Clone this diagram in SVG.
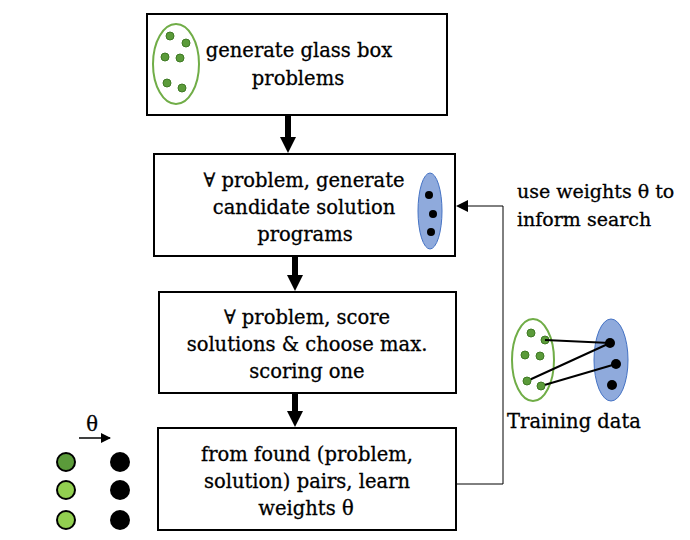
<svg xmlns="http://www.w3.org/2000/svg" width="690" height="540" viewBox="0 0 690 540">
<style>
.box{fill:#fff;stroke:#000;stroke-width:2}
.t{font-family:"DejaVu Serif","Liberation Serif",serif;font-size:19.5px;fill:#000;stroke:#000;stroke-width:0.3;text-anchor:middle}
.tl{font-family:"DejaVu Serif","Liberation Serif",serif;font-size:19px;fill:#000;stroke:#000;stroke-width:0.3}
.ge{fill:#fff;stroke:#70ad47;stroke-width:2}
.be{fill:#8faadc;stroke:#4472c4;stroke-width:1}
.gd{fill:#5b9b3a;stroke:#3f7a24;stroke-width:1}
.bd{fill:#000}
.thick{stroke:#000;stroke-width:6}
</style>
<defs>
<marker id="as" markerWidth="10" markerHeight="10" refX="9" refY="5" orient="auto" markerUnits="userSpaceOnUse"><path d="M0,0L10,5L0,10z" fill="#000"/></marker>
</defs>
<g id="connectors">
<line class="thick" x1="288" y1="115" x2="288" y2="138"/>
<path d="M280,137L296,137L288,153z" fill="#000"/>
<line class="thick" x1="295" y1="256" x2="295" y2="276"/>
<path d="M287,275L303,275L295,291z" fill="#000"/>
<line class="thick" x1="295" y1="393" x2="295" y2="412"/>
<path d="M287,411L303,411L295,427z" fill="#000"/>
<polyline points="456,484 503,484 503,206 467,206" fill="none" stroke="#000" stroke-width="1"/>
<path d="M456,206L468,200L468,212z" fill="#000"/>
</g>
<g id="n1">
<rect class="box" x="147" y="14" width="300" height="101"/>
<ellipse class="ge" cx="176" cy="64" rx="23" ry="40"/>
<circle class="gd" cx="170" cy="36" r="4"/><circle class="gd" cx="186" cy="43" r="4"/>
<circle class="gd" cx="165" cy="57" r="4"/><circle class="gd" cx="180" cy="58" r="4"/>
<circle class="gd" cx="167" cy="83" r="4"/><circle class="gd" cx="182" cy="88" r="4"/>
<text class="t" x="299" y="57">generate glass box</text>
<text class="t" x="298" y="85">problems</text>
</g>
<g id="n2">
<rect class="box" x="154" y="154" width="301" height="102"/>
<ellipse class="be" cx="430" cy="211" rx="12" ry="38"/>
<circle class="bd" cx="429" cy="195" r="4"/><circle class="bd" cx="433" cy="214" r="4"/><circle class="bd" cx="431" cy="232" r="4"/>
<text class="t" x="304" y="187">∀ problem, generate</text>
<text class="t" x="304" y="214">candidate solution</text>
<text class="t" x="305" y="241">programs</text>
</g>
<g id="n3">
<rect class="box" x="159" y="292" width="297" height="101"/>
<text class="t" x="307" y="324">∀ problem, score</text>
<text class="t" x="307" y="351">solutions &amp; choose max.</text>
<text class="t" x="307" y="378">scoring one</text>
</g>
<g id="n4">
<rect class="box" x="158" y="428" width="298" height="102"/>
<text class="t" x="307" y="461">from found (problem,</text>
<text class="t" x="307" y="488">solution) pairs, learn</text>
<text class="t" x="306" y="515">weights θ</text>
</g>
<g id="label-weights">
<text class="tl" x="517" y="198">use weights θ to</text>
<text class="tl" x="517" y="226">inform search</text>
</g>
<g id="training">
<ellipse class="ge" cx="533" cy="360" rx="21" ry="41"/>
<ellipse class="be" cx="611" cy="360" rx="17" ry="41"/>
<circle class="gd" cx="531" cy="333" r="4"/><circle class="gd" cx="545" cy="340" r="4"/>
<circle class="gd" cx="525" cy="355" r="4"/><circle class="gd" cx="540" cy="356" r="4"/>
<line x1="545" y1="340" x2="610" y2="343" stroke="#000" stroke-width="2"/>
<line x1="527" y1="381" x2="610" y2="343" stroke="#000" stroke-width="2"/>
<line x1="541" y1="386" x2="616" y2="364" stroke="#000" stroke-width="2"/>
<circle class="gd" cx="527" cy="381" r="4"/><circle class="gd" cx="541" cy="386" r="4"/>
<circle class="bd" cx="610" cy="343" r="5"/><circle class="bd" cx="616" cy="364" r="5"/><circle class="bd" cx="612" cy="385" r="5"/>
<text class="t" x="574" y="428">Training data</text>
</g>
<g id="legend">
<text class="t" x="92" y="431" font-size="17" stroke-width="0">θ</text>
<line x1="79" y1="438" x2="110" y2="438" stroke="#000" stroke-width="1.5" marker-end="url(#as)"/>
<circle cx="66" cy="462" r="9" fill="#5b9b3a" stroke="#000" stroke-width="2"/>
<circle cx="66" cy="490" r="9" fill="#92d050" stroke="#000" stroke-width="2"/>
<circle cx="66" cy="520" r="9" fill="#92d050" stroke="#000" stroke-width="2"/>
<circle cx="120" cy="462" r="10" fill="#000"/>
<circle cx="120" cy="490" r="10" fill="#000"/>
<circle cx="120" cy="520" r="10" fill="#000"/>
</g>
</svg>
